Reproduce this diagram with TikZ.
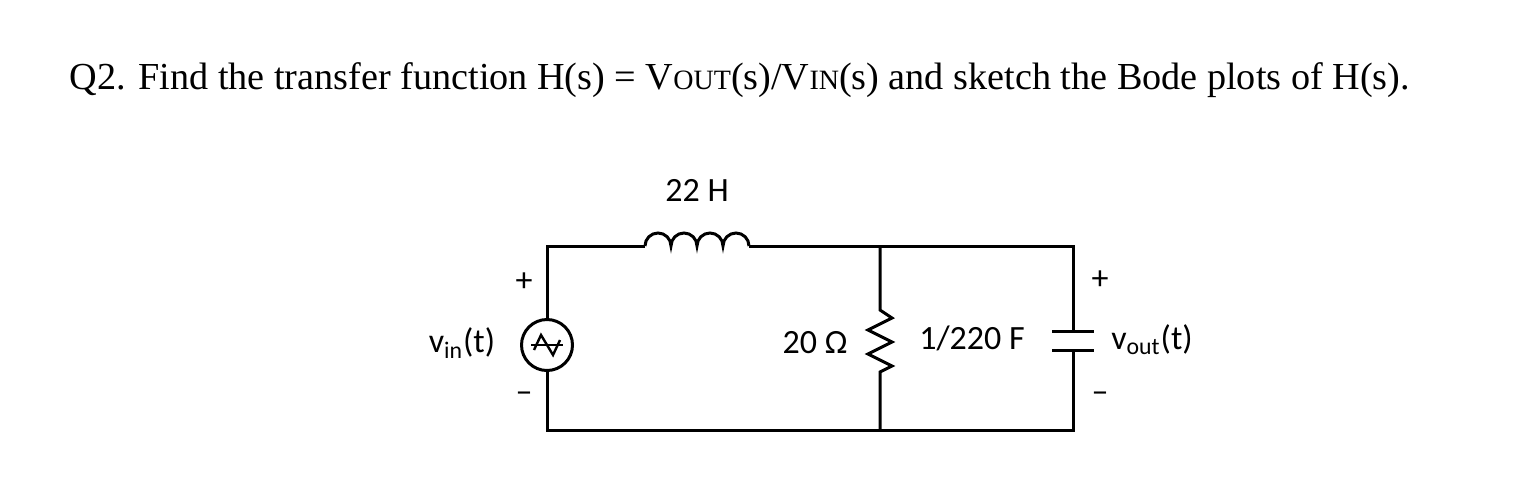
\documentclass[tikz,border=0pt]{standalone}
\usepackage{fontspec}
\setmainfont{Liberation Serif}
\newfontfamily\calfnt{Carlito}
\begin{document}
\begin{tikzpicture}[x=0.5pt,y=-0.5pt,line width=1.5pt,
  lab/.style={font=\calfnt\fontsize{17}{20}\selectfont,inner sep=0pt}]
\useasboundingbox (0,0) rectangle (1529,489);
\node[anchor=west,inner sep=0pt,font=\fontsize{19.1}{23}\selectfont] (title) at (68,80)
 {Q2. Find the transfer function H(s) = V{\fontsize{14}{16}\selectfont OUT}(s)/V{\fontsize{14}{16}\selectfont IN}(s) and sketch the Bode plots of H(s).};
\coordinate (tl) at (547,246); \coordinate (bl) at (547,430);
\coordinate (l1) at (645,246); \coordinate (l2) at (749,246);
\coordinate (tm) at (880,246); \coordinate (bm) at (880,430);
\coordinate (tr) at (1073,246); \coordinate (br) at (1073,430);
\node[circle,draw,minimum size=25.5pt,inner sep=0pt] (src) at (547,345) {};
\draw[line width=1.2pt] (531,345) -- (563,345);
\draw[line width=1.2pt] (534,350) -- (541,335) -- (547,345) -- (553,355) -- (560,340);
\draw (src.north) -- (tl) -- (l1);
\draw (l1) arc (180:360:13) arc (180:360:13) arc (180:360:13) arc (180:360:13);
\draw (l2) -- (tm) -- (tr) -- (1073,331);
\draw (1052,331) -- (1094,331); \draw (1052,350) -- (1094,350);
\draw (1073,350) -- (br) -- (bm) -- (bl) -- (src.south);
\draw (tm) -- (880,310) -- (892,318) -- (868,330) -- (892,342) -- (868,354) -- (892,366) -- (880,372) -- (880,379) -- (bm);
\node[lab] (lL) at (697,190) {22 H};
\node[lab] (pp1) at (524,282) {+};
\node[lab] (mm1) at (524,397) {–};
\node[lab] (vin) at (462,343) {v\textsubscript{in}(t)};
\node[lab] (lR) at (815,343) {20 Ω};
\node[lab] (lC) at (972,338) {1/220 F};
\node[lab] (pp2) at (1100,280) {+};
\node[lab] (mm2) at (1100,397) {–};
\node[lab] (vout) at (1152,340) {v\textsubscript{out}(t)};
\end{tikzpicture}
\end{document}
